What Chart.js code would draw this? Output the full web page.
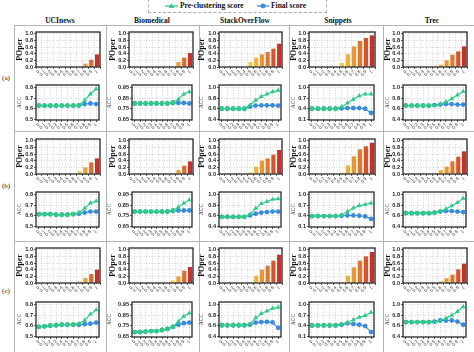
<!DOCTYPE html>
<html><head><meta charset="utf-8">
<script src="https://cdn.jsdelivr.net/npm/chart.js@4"></script>
<style>
body{margin:0;width:474px;height:352px;background:#fff;position:relative;overflow:hidden;font-family:'Liberation Serif',serif;color:#111}
.vl{position:absolute;width:1px;background:#b4b4b4}
.hl{position:absolute;height:1px;background:#b4b4b4}
.ct{position:absolute;font:bold 7.5px 'Liberation Serif',serif;transform:translate(-50%,-50%);white-space:nowrap}
.rl{position:absolute;font:7px 'Liberation Serif',serif;transform:translate(-50%,-50%);white-space:nowrap}
canvas{position:absolute}
</style></head><body>
<script>
// ---------- data ----------
const categories = ['0','0.1','0.2','0.3','0.4','0.5','0.6','0.7','0.8','0.9','1'];
const datasetNames = ['UCInews','Biomedical','StackOverFlow','Snippets','Trec'];
const rowLabels = ['(a)','(b)','(c)'];
const seriesNames = ['Pre-clustering score','Final score'];
const poperTicks = [0,0.2,0.4,0.6,0.8,1.0];
const accTicks_uci  = [0.5,0.6,0.7,0.8];
const accTicks_bio  = [0.65,0.75,0.85,0.95];
const accTicks_so   = [0.4,0.6,0.8,1.0];
const accTicks_snip = [0.1,0.4,0.7,1.0];
const accTicks_trec = [0.4,0.6,0.8,1.0];

// row (a)
const poper_a_uci  = [0,0,0,0,0,0,0,0.02,0.10,0.22,0.38];
const poper_a_bio  = [0,0,0,0,0,0,0,0.02,0.15,0.28,0.42];
const poper_a_so   = [0,0,0,0,0,0.15,0.28,0.38,0.45,0.55,0.70];
const poper_a_snip = [0,0,0,0,0,0.12,0.38,0.62,0.78,0.87,0.95];
const poper_a_trec = [0,0,0,0,0,0.02,0.07,0.20,0.37,0.47,0.62];
const pre_a_uci  = [0.63,0.63,0.63,0.63,0.63,0.63,0.63,0.635,0.68,0.74,0.79];
const fin_a_uci  = [0.63,0.63,0.63,0.63,0.63,0.63,0.63,0.63,0.645,0.65,0.645];
const pre_a_bio  = [0.80,0.80,0.80,0.80,0.80,0.80,0.80,0.81,0.84,0.89,0.91];
const fin_a_bio  = [0.80,0.80,0.80,0.80,0.80,0.80,0.80,0.805,0.805,0.805,0.80];
const pre_a_so   = [0.60,0.60,0.60,0.60,0.60,0.67,0.76,0.83,0.88,0.92,0.95];
const fin_a_so   = [0.60,0.60,0.60,0.60,0.60,0.64,0.66,0.665,0.665,0.665,0.66];
const pre_a_snip = [0.40,0.40,0.40,0.40,0.40,0.46,0.56,0.67,0.77,0.82,0.82];
const fin_a_snip = [0.40,0.40,0.40,0.40,0.40,0.41,0.42,0.42,0.42,0.40,0.28];
const pre_a_trec = [0.66,0.66,0.66,0.66,0.66,0.66,0.69,0.73,0.79,0.86,0.93];
const fin_a_trec = [0.66,0.66,0.66,0.66,0.66,0.67,0.68,0.69,0.69,0.68,0.68];
// row (b)
const poper_b_uci  = [0,0,0,0,0,0,0,0.08,0.20,0.35,0.47];
const poper_b_bio  = [0,0,0,0,0,0,0,0.02,0.12,0.25,0.38];
const poper_b_so   = [0,0,0,0,0,0.05,0.22,0.40,0.47,0.58,0.72];
const poper_b_snip = [0,0,0,0,0,0.04,0.26,0.53,0.74,0.83,0.94];
const poper_b_trec = [0,0,0,0,0,0.02,0.12,0.22,0.38,0.52,0.68];
const pre_b_uci  = [0.615,0.615,0.615,0.61,0.61,0.61,0.615,0.63,0.67,0.72,0.74];
const fin_b_uci  = [0.615,0.615,0.615,0.61,0.61,0.61,0.615,0.62,0.63,0.64,0.64];
const pre_b_bio  = [0.79,0.79,0.79,0.79,0.79,0.79,0.79,0.80,0.83,0.87,0.90];
const fin_b_bio  = [0.79,0.79,0.79,0.79,0.79,0.79,0.79,0.795,0.80,0.80,0.80];
const pre_b_so   = [0.58,0.58,0.58,0.58,0.58,0.63,0.74,0.83,0.87,0.91,0.92];
const fin_b_so   = [0.58,0.58,0.58,0.58,0.58,0.61,0.64,0.66,0.67,0.68,0.68];
const pre_b_snip = [0.39,0.39,0.39,0.39,0.39,0.42,0.52,0.62,0.69,0.72,0.76];
const fin_b_snip = [0.39,0.39,0.39,0.39,0.39,0.40,0.41,0.41,0.40,0.38,0.31];
const pre_b_trec = [0.65,0.65,0.65,0.65,0.65,0.66,0.69,0.73,0.79,0.85,0.93];
const fin_b_trec = [0.65,0.65,0.65,0.65,0.65,0.66,0.68,0.69,0.69,0.68,0.67];
// row (c)
const poper_c_uci  = [0,0,0,0,0,0,0,0.05,0.15,0.27,0.40];
const poper_c_bio  = [0,0,0,0,0,0,0,0.08,0.20,0.37,0.48];
const poper_c_so   = [0,0,0,0,0,0.02,0.22,0.40,0.52,0.67,0.85];
const poper_c_snip = [0,0,0,0,0,0.02,0.22,0.47,0.67,0.80,0.93];
const poper_c_trec = [0,0,0,0,0,0.02,0.05,0.14,0.25,0.41,0.58];
const pre_c_uci  = [0.59,0.595,0.60,0.605,0.61,0.61,0.61,0.62,0.65,0.71,0.75];
const fin_c_uci  = [0.59,0.595,0.60,0.605,0.61,0.61,0.61,0.61,0.615,0.62,0.63];
const pre_c_bio  = [0.69,0.69,0.695,0.70,0.70,0.71,0.72,0.74,0.79,0.84,0.87];
const fin_c_bio  = [0.69,0.69,0.695,0.70,0.70,0.71,0.72,0.74,0.76,0.775,0.78];
const pre_c_so   = [0.61,0.61,0.61,0.61,0.61,0.63,0.75,0.83,0.88,0.93,0.95];
const fin_c_so   = [0.61,0.61,0.61,0.61,0.61,0.62,0.66,0.67,0.675,0.665,0.56];
const pre_c_snip = [0.41,0.41,0.41,0.41,0.41,0.44,0.50,0.57,0.64,0.69,0.78];
const fin_c_snip = [0.41,0.41,0.41,0.41,0.41,0.43,0.47,0.45,0.43,0.39,0.22];
const pre_c_trec = [0.67,0.67,0.67,0.67,0.67,0.67,0.69,0.74,0.80,0.87,0.96];
const fin_c_trec = [0.67,0.67,0.67,0.67,0.67,0.68,0.70,0.70,0.70,0.68,0.62];

// ---------- assembling ----------
const accTicks = [accTicks_uci,accTicks_bio,accTicks_so,accTicks_snip,accTicks_trec];
const poper = [
  [poper_a_uci,poper_a_bio,poper_a_so,poper_a_snip,poper_a_trec],
  [poper_b_uci,poper_b_bio,poper_b_so,poper_b_snip,poper_b_trec],
  [poper_c_uci,poper_c_bio,poper_c_so,poper_c_snip,poper_c_trec]];
const pre = [
  [pre_a_uci,pre_a_bio,pre_a_so,pre_a_snip,pre_a_trec],
  [pre_b_uci,pre_b_bio,pre_b_so,pre_b_snip,pre_b_trec],
  [pre_c_uci,pre_c_bio,pre_c_so,pre_c_snip,pre_c_trec]];
const fin = [
  [fin_a_uci,fin_a_bio,fin_a_so,fin_a_snip,fin_a_trec],
  [fin_b_uci,fin_b_bio,fin_b_so,fin_b_snip,fin_b_trec],
  [fin_c_uci,fin_c_bio,fin_c_so,fin_c_snip,fin_c_trec]];

// ---------- layout ----------
const colLayout = [
  {cx:60,  pT:20,  aT:20,  pL:36,  aL:36,  R:100},
  {cx:152, pT:113, aT:110, pL:129, aL:132, R:193},
  {cx:245, pT:202, aT:202, pL:219, aL:219, R:282},
  {cx:338, pT:294, aT:294, pL:309, aL:309, R:375},
  {cx:432, pT:388, aT:388, pL:403, aL:403, R:467}];
const rowLayout = [{pTop:32,aTop:85,ly:78},{pTop:139,aTop:192,ly:186},{pTop:248,aTop:302,ly:291}];
const PH = 35, HX = 11, PADT = 4, PADR = 3;
const G = '#2fcb86', B = '#3a8cdb';
const GRID = '#c4c4c4';

function el(cls, style, text){
  const d = document.createElement('div'); d.className = cls;
  Object.assign(d.style, style); if(text) d.textContent = text;
  document.body.appendChild(d); return d;
}
// panel separators
[25,131,241].forEach(y=>el('hl',{left:'14px',top:y+'px',width:'460px'}));
[14,106,199,289,383].forEach(x=>el('vl',{left:x+'px',top:'25px',height:'327px'}));
datasetNames.forEach((n,i)=>el('ct',{left:colLayout[i].cx+'px',top:'20px'},n));
rowLabels.forEach((n,i)=>el('rl',{left:'6px',top:rowLayout[i].ly+'px'},n));

// legend
const lg = el('', {position:'absolute',left:'148px',top:'-1px',width:'177px',height:'12px',border:'1px dashed #aaa'});
lg.innerHTML =
 '<svg width="177" height="12" style="position:absolute;left:0;top:0">'+
 '<line x1="16" y1="6" x2="29" y2="6" stroke="'+G+'" stroke-width="1.3"/>'+
 '<polygon points="22.5,3.2 25.3,8 19.7,8" fill="'+G+'"/>'+
 '<line x1="108" y1="6" x2="120" y2="6" stroke="'+B+'" stroke-width="1.3"/>'+
 '<circle cx="114" cy="6" r="2.4" fill="'+B+'"/></svg>'+
 '<span style="position:absolute;left:31px;top:0px;font:bold 7.5px \'Liberation Serif\';line-height:12px;white-space:nowrap">'+seriesNames[0]+'</span>'+
 '<span style="position:absolute;left:122px;top:0px;font:bold 7.5px \'Liberation Serif\';line-height:12px;white-space:nowrap">'+seriesNames[1]+'</span>';

const boxPlugin = {id:'box', afterDatasetsDraw(chart){
  const a = chart.chartArea, ctx = chart.ctx;
  ctx.save(); ctx.strokeStyle = '#2a2a2a'; ctx.lineWidth = 1.3;
  ctx.strokeRect(a.left, a.top, a.right-a.left, a.bottom-a.top); ctx.restore();
}};

function hex(c){return [1,3,5].map(i=>parseInt(c.substr(i,2),16));}
function mix(a,b,t){const A=hex(a),Bc=hex(b);return 'rgb('+A.map((v,i)=>Math.round(v+(Bc[i]-v)*t)).join(',')+')';}
function barColor(vals,i){
  const first = vals.findIndex(v=>v>0); const n = vals.length;
  if(first<0 || i<=first) return '#f2cd44';
  const t = (i-first)/(n-1-first);
  return t<0.5 ? mix('#f2cd44','#e4892f',t/0.5) : mix('#e4892f','#c6322a',(t-0.5)/0.5);
}

function makeCanvas(left, top, w, h){
  const c = document.createElement('canvas');
  c.width = w; c.height = h;
  c.style.left = left+'px'; c.style.top = top+'px';
  c.style.width = w+'px'; c.style.height = h+'px';
  document.body.appendChild(c); return c;
}

function xScale(offset){
  return {
    offset: offset,
    grid:{color:GRID, lineWidth:0.7, tickLength:2, tickColor:'#333', tickWidth:0.8},
    border:{display:false, dash:[1,1.5]},
    ticks:{font:{size:4.5, family:'Liberation Sans'}, color:'#333', maxRotation:45, minRotation:45, autoSkip:false, padding:0},
    afterFit:s=>{s.height = HX; s.paddingLeft = 0; s.paddingRight = 0;}
  };
}
function yScale(min,max,ticks,dec,title,tsize,tbold,W){
  return {
    min:min, max:max,
    afterBuildTicks:s=>{s.ticks = ticks.map(v=>({value:v}));},
    grid:{color:GRID, lineWidth:0.7, tickLength:2, tickColor:'#333', tickWidth:0.8},
    border:{display:false, dash:[1,1.5]},
    ticks:{autoSkip:false, callback:v=>Number(v).toFixed(dec), font:{size:5.6, family:'Liberation Sans', weight:'bold'}, color:'#222', padding:1},
    title:{display:true, text:title, color:'#111', font:{family:'Liberation Serif', size:tsize, weight:tbold?'bold':'normal', lineHeight:1}, padding:{top:1,bottom:0}},
    afterFit:s=>{s.width = W; s.paddingTop = 0; s.paddingBottom = 0;}
  };
}

for(let r=0;r<3;r++){
  for(let c=0;c<5;c++){
    const L = colLayout[c], RL = rowLayout[r];
    // POper bar chart
    {
      const vals = poper[r][c];
      const left = Math.round(L.pT - 5);
      const W = L.pL - left;
      const w = W + (L.R - L.pL) + PADR;
      const h = PADT + PH + HX;
      const cv = makeCanvas(left, RL.pTop - PADT, w, h);
      new Chart(cv, {
        type:'bar',
        data:{labels:categories, datasets:[{data:vals, backgroundColor:ctx=>barColor(vals,ctx.dataIndex), barPercentage:0.72, categoryPercentage:1}]},
        options:{responsive:false, animation:false, events:[],
          layout:{padding:{top:PADT,right:PADR,left:0,bottom:0}},
          plugins:{legend:{display:false},tooltip:{enabled:false}},
          scales:{x:xScale(true), y:yScale(0,1.05,poperTicks,1,'POper',8,true,W)}},
        plugins:[boxPlugin]
      });
    }
    // ACC line chart
    {
      const p = pre[r][c], f = fin[r][c], tk = accTicks[c];
      const lo = tk[0], hi = tk[tk.length-1], rg = hi - lo;
      const left = Math.round(L.aT - 4);
      const W = L.aL - left;
      const w = W + (L.R - L.aL) + PADR;
      const h = PADT + PH + HX;
      const dec = c===1 ? 2 : 1;
      const cv = makeCanvas(left, RL.aTop - PADT, w, h);
      const same = i => Math.abs(p[i]-f[i]) < 0.006;
      new Chart(cv, {
        type:'line',
        data:{labels:categories, datasets:[
          {label:seriesNames[0], data:p, borderColor:G, backgroundColor:G, borderWidth:1.2,
           pointStyle:ctx=>same(ctx.dataIndex)?'circle':'triangle',
           pointRadius:ctx=>same(ctx.dataIndex)?2.4:2.8, pointBorderWidth:0, clip:false},
          {label:seriesNames[1], data:f, borderColor:B, backgroundColor:B, borderWidth:1.2,
           pointStyle:'circle', pointRadius:2.4, pointBorderWidth:0, clip:false}]},
        options:{responsive:false, animation:false, events:[],
          layout:{padding:{top:PADT,right:PADR,left:0,bottom:0}},
          plugins:{legend:{display:false},tooltip:{enabled:false}},
          scales:{x:xScale(true), y:yScale(lo - rg*0.7/31.6, hi + rg*2.7/31.6, tk, dec, 'ACC', 5.5, false, W)}},
        plugins:[boxPlugin]
      });
    }
  }
}
</script>
</body></html>
